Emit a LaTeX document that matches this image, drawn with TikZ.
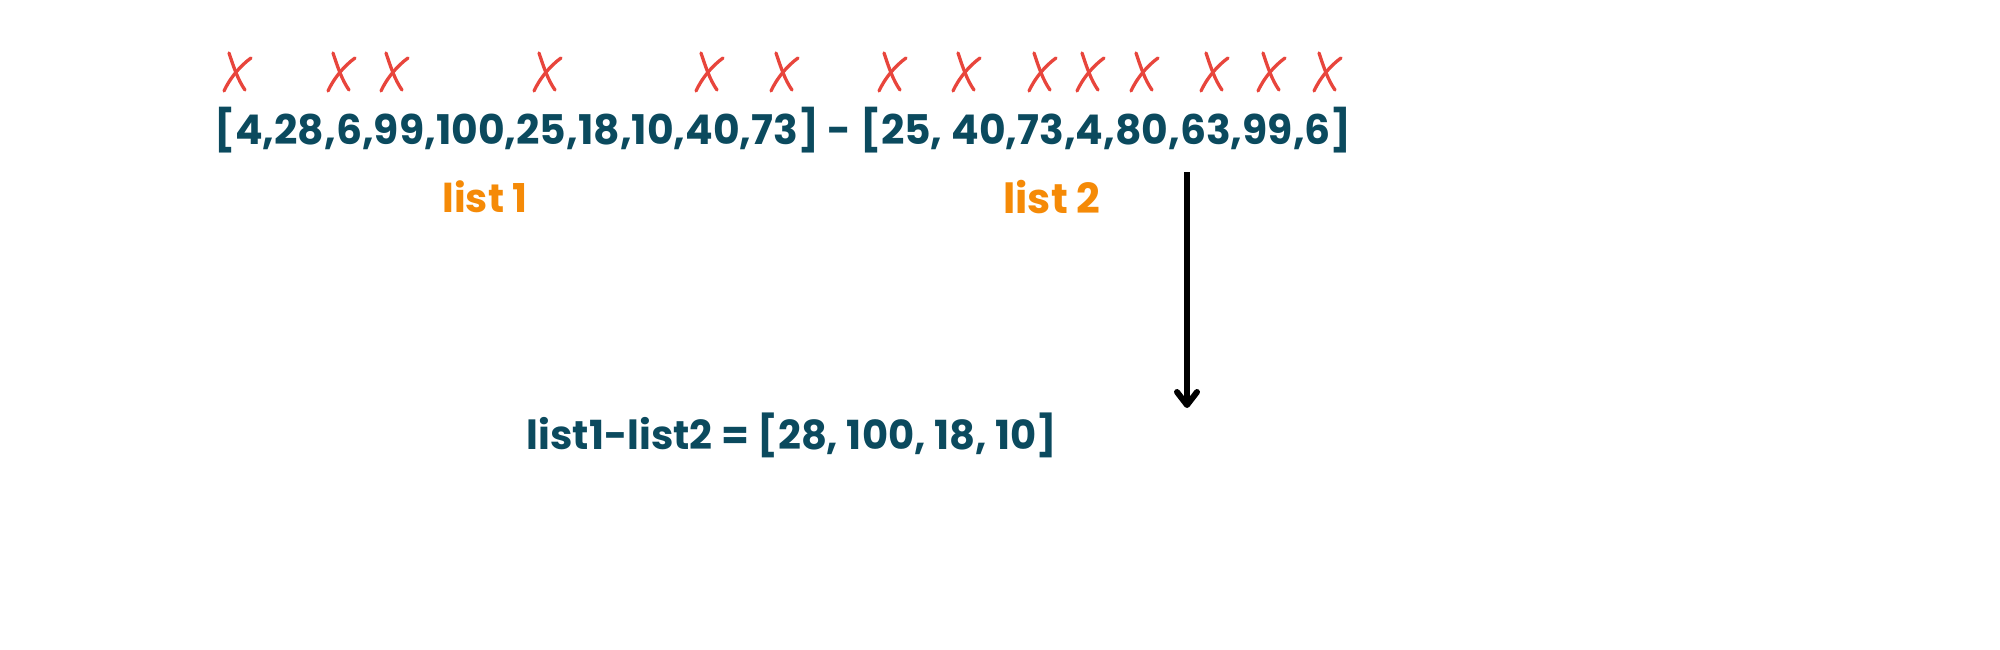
\documentclass[tikz,border=0pt]{standalone}
\usepackage{fontspec}
\setmainfont{Poppins}[UprightFont=* SemiBold,BoldFont=* Bold]
\definecolor{teal}{HTML}{0B4A5E}
\definecolor{orng}{HTML}{F58A07}
\definecolor{redx}{HTML}{E8453C}
\begin{document}
\begin{tikzpicture}[x=1pt,y=-1pt,
  xmark/.style={draw=redx,line width=3.3pt,line cap=round},
  main/.style={inner sep=0,text=teal,font=\bfseries},
  lbl/.style={inner sep=0,text=orng,font=\bfseries}]
\useasboundingbox (0,0) rectangle (2000,650);
\node[main] (l) at (783,130) {\resizebox{1137pt}{!}{[4,28,6,99,100,25,18,10,40,73] - [25, 40,73,4,80,63,99,6]}};
\node[lbl] (a) at (485,197) {\resizebox{85pt}{!}{list 1}};
\node[lbl] (b) at (1052,197) {\resizebox{97pt}{!}{list 2}};
\node[main] (r) at (792,435) {\resizebox{530pt}{!}{list1-list2 = [28, 100, 18, 10]}};
\coordinate (s) at (1187,172);
\coordinate (e) at (1187,405);
\draw[line width=6pt] (s) -- (e);
\draw[line width=6pt,line cap=round,line join=round] (1177,392) -- (e) -- (1197,392);
\foreach \x in {238,342,395,548,710,785,893,967,1043,1091,1145,1215,1272,1328}{
  \draw[xmark] (\x-9,53) .. controls (\x-4,68) and (\x,80) .. (\x+7,90);
  \draw[xmark] (\x+13,58) .. controls (\x+2,66) and (\x-8,78) .. (\x-14,91);
}
\end{tikzpicture}
\end{document}
